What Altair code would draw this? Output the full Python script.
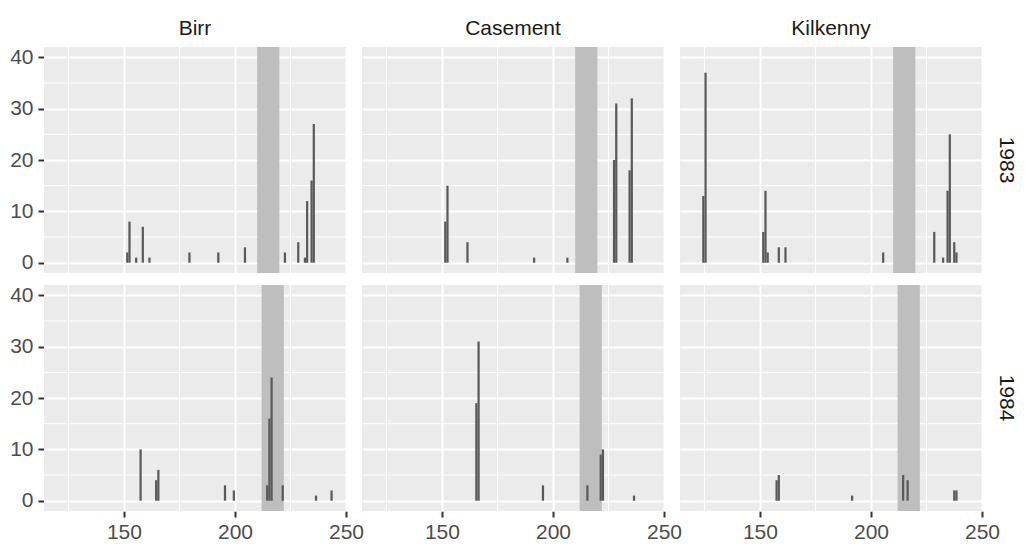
import altair as alt
import pandas as pd

# ---- data (day-of-year bins, count per 1-day bin) ----
sites = ["Birr", "Casement", "Kilkenny"]
years = ["1983", "1984"]

birr_1983_days = [151, 152, 155, 158, 161, 179, 192, 204, 222, 228, 231, 232, 234, 235]
birr_1983_counts = [2, 8, 1, 7, 1, 2, 2, 3, 2, 4, 1, 12, 16, 27]

casement_1983_days = [151, 152, 161, 191, 206, 227, 228, 234, 235]
casement_1983_counts = [8, 15, 4, 1, 1, 20, 31, 18, 32]

kilkenny_1983_days = [124, 125, 151, 152, 153, 158, 161, 205, 228, 232, 234, 235, 237, 238]
kilkenny_1983_counts = [13, 37, 6, 14, 2, 3, 3, 2, 6, 1, 14, 25, 4, 2]

birr_1984_days = [157, 164, 165, 195, 199, 214, 215, 216, 221, 236, 243]
birr_1984_counts = [10, 4, 6, 3, 2, 3, 16, 24, 3, 1, 2]

casement_1984_days = [165, 166, 195, 215, 221, 222, 236]
casement_1984_counts = [19, 31, 3, 3, 9, 10, 1]

kilkenny_1984_days = [157, 158, 191, 214, 216, 237, 238]
kilkenny_1984_counts = [4, 5, 1, 5, 4, 2, 2]

band_1983 = [210, 220]
band_1984 = [212, 222]

x_major = [150, 200, 250]
x_minor = [125, 175, 225]
y_major = [0, 10, 20, 30, 40]
y_minor = [5, 15, 25, 35]

panels = {
    ("Birr", "1983"): (birr_1983_days, birr_1983_counts),
    ("Casement", "1983"): (casement_1983_days, casement_1983_counts),
    ("Kilkenny", "1983"): (kilkenny_1983_days, kilkenny_1983_counts),
    ("Birr", "1984"): (birr_1984_days, birr_1984_counts),
    ("Casement", "1984"): (casement_1984_days, casement_1984_counts),
    ("Kilkenny", "1984"): (kilkenny_1984_days, kilkenny_1984_counts),
}
bands = {"1983": band_1983, "1984": band_1984}

rows = []
for (site, year), (days, counts) in panels.items():
    for d, c in zip(days, counts):
        rows.append(dict(kind="bar", site=site, year=year, x=d, x2=d + 1, y=c, y0=0))
    b = bands[year]
    rows.append(dict(kind="band", site=site, year=year, x=b[0], x2=b[1], y=0, y0=0))
    for v in x_minor:
        rows.append(dict(kind="vgrid", site=site, year=year, x=v, x2=v, y=0, y0=0))
    for v in y_minor:
        rows.append(dict(kind="hgrid", site=site, year=year, x=150, x2=150, y=v, y0=v))
df = pd.DataFrame(rows)

FONT = "Liberation Sans"
FS = 21
xscale = alt.Scale(domain=[114, 250], nice=False, zero=False)
yscale = alt.Scale(domain=[-2, 42], nice=False, zero=False)

xaxis = alt.Axis(values=x_major, grid=True, gridColor="white", gridWidth=2,
                 domain=False, tickColor="#333333", tickWidth=2, tickSize=6,
                 labelFontSize=FS, labelColor="#4D4D4D", labelFont=FONT,
                 labelPadding=4, labelFlush=False, title=None)
yaxis = alt.Axis(values=y_major, grid=True, gridColor="white", gridWidth=2,
                 domain=False, tickColor="#333333", tickWidth=2, tickSize=6,
                 labelFontSize=FS, labelColor="#4D4D4D", labelFont=FONT,
                 labelPadding=5, title=None)

base = alt.Chart()

vgrid = base.transform_filter("datum.kind == 'vgrid'").mark_rule(
    color="white", strokeWidth=1).encode(
    x=alt.X("x:Q", scale=xscale, axis=xaxis, title=None))

hgrid = base.transform_filter("datum.kind == 'hgrid'").mark_rule(
    color="white", strokeWidth=1).encode(
    y=alt.Y("y:Q", scale=yscale, axis=yaxis, title=None))

band = base.transform_filter("datum.kind == 'band'").mark_rect(
    color="#BEBEBE").encode(
    x=alt.X("x:Q", scale=xscale, title=None), x2="x2:Q")

bars = base.transform_filter("datum.kind == 'bar'").mark_rect(
    color="#595959").encode(
    x=alt.X("x:Q", scale=xscale, title=None), x2="x2:Q",
    y=alt.Y("y:Q", scale=yscale, title=None), y2="y0:Q")

layered = alt.layer(vgrid, hgrid, band, bars, data=df).properties(width=302, height=226)

chart = layered.facet(
    column=alt.Column("site:N", title=None, sort=sites,
                      header=alt.Header(labelFontSize=FS, labelColor="#1A1A1A",
                                        labelFont=FONT, labelPadding=8)),
    row=alt.Row("year:N", title=None, sort=years,
                header=alt.Header(labelOrient="right", labelAngle=90,
                                  labelFontSize=FS, labelColor="#1A1A1A",
                                  labelFont=FONT, labelPadding=14)),
    spacing={"row": 12, "column": 16},
    bounds="flush",
).properties(
    padding={"left": 9, "top": 18, "right": 5, "bottom": 5},
    background="white",
).configure_view(fill="#EBEBEB", strokeWidth=0)

chart.save("out.html", embed_options={"renderer": "svg", "actions": False})
